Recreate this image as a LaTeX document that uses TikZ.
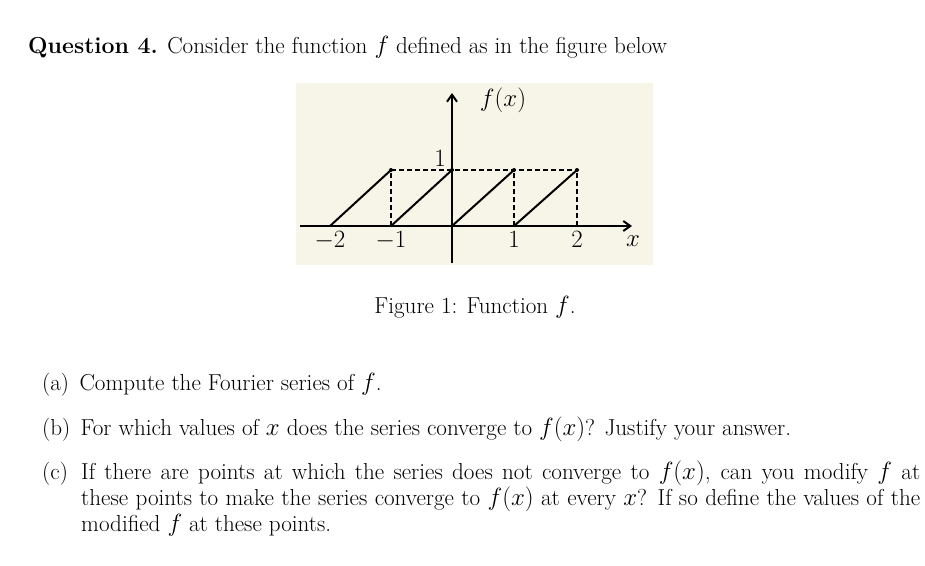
\documentclass[tikz,border=0pt]{standalone}
\usepackage{amsmath}
\usetikzlibrary{arrows.meta}
\definecolor{bgc}{RGB}{247,245,232}
\tikzset{txt/.style={anchor=base west,inner sep=0pt,font=\fontsize{23.1}{26}\selectfont},
hw/.style={font=\fontsize{26}{28}\selectfont,inner sep=1pt},
dsh/.style={dash pattern=on 5pt off 3pt,line width=1.1pt},
sol/.style={line width=2pt}}
\begin{document}
\begin{tikzpicture}[x=1pt,y=-1pt]
\useasboundingbox (0,0) rectangle (925,565);
\node[txt] (q) at (28,53) {\textbf{Question 4.} Consider the function $f$ defined as in the figure below};
\fill[bgc] (296,83) rectangle (653,265);
% axes
\coordinate (xs) at (300,226); \coordinate (xe) at (632,226);
\coordinate (ys) at (452,263); \coordinate (ye) at (452,93);
\draw[sol,-{Straight Barb[length=7pt,width=10pt]}] (xs) -- (xe);
\draw[sol,-{Straight Barb[length=7pt,width=10pt]}] (ys) -- (ye);
\foreach \n/\x in {m2/330,m1/391,z/452,p1/514,p2/577}{
 \coordinate (b\n) at (\x,226); \coordinate (t\n) at (\x,170);}
\draw[sol] (bm2)--(tm1); \draw[sol] (bm1)--(tz); \draw[sol] (bz)--(tp1); \draw[sol] (bp1)--(tp2);
\draw[dsh] (tm1)--(tp2);
\draw[dsh] (bm1)--(tm1); \draw[dsh] (bp1)--(tp1); \draw[dsh] (bp2)--(tp2);
\foreach \n in {m1,z,p1,p2} \fill (t\n) circle (2pt);
\node[hw,below=4pt] (lm2) at (bm2) {$-2$};
\node[hw,below=4pt] (lm1) at (bm1) {$-1$};
\node[hw,below=4pt] (lp1) at (bp1) {$1$};
\node[hw,below=4pt] (lp2) at (bp2) {$2$};
\node[hw] (lx) at (633,241) {$x$};
\node[hw,anchor=south east] (l1) at (447,168) {$1$};
\node[hw] (lf) at (503,100) {$f(x)$};
\node[txt,anchor=base] (cap) at (475,313) {Figure 1: Function $f$.};
\node[txt] (a) at (42,390) {(a)\hspace{0.45em}Compute the Fourier series of $f$.};
\node[txt] (b) at (42,435) {(b)\hspace{0.45em}For which values of $x$ does the series converge to $f(x)$? Justify your answer.};
\node[txt] (c) at (42,479) {(c)};
\node[txt,text width=839pt,align=justify] (ct) at (81,479) {If there are points at which the series does not converge to $f(x)$, can you modify $f$ at\linebreak these points to make the series converge to $f(x)$ at every $x$? If so define the values of the\linebreak modified $f$ at these points.};
\end{tikzpicture}
\end{document}
